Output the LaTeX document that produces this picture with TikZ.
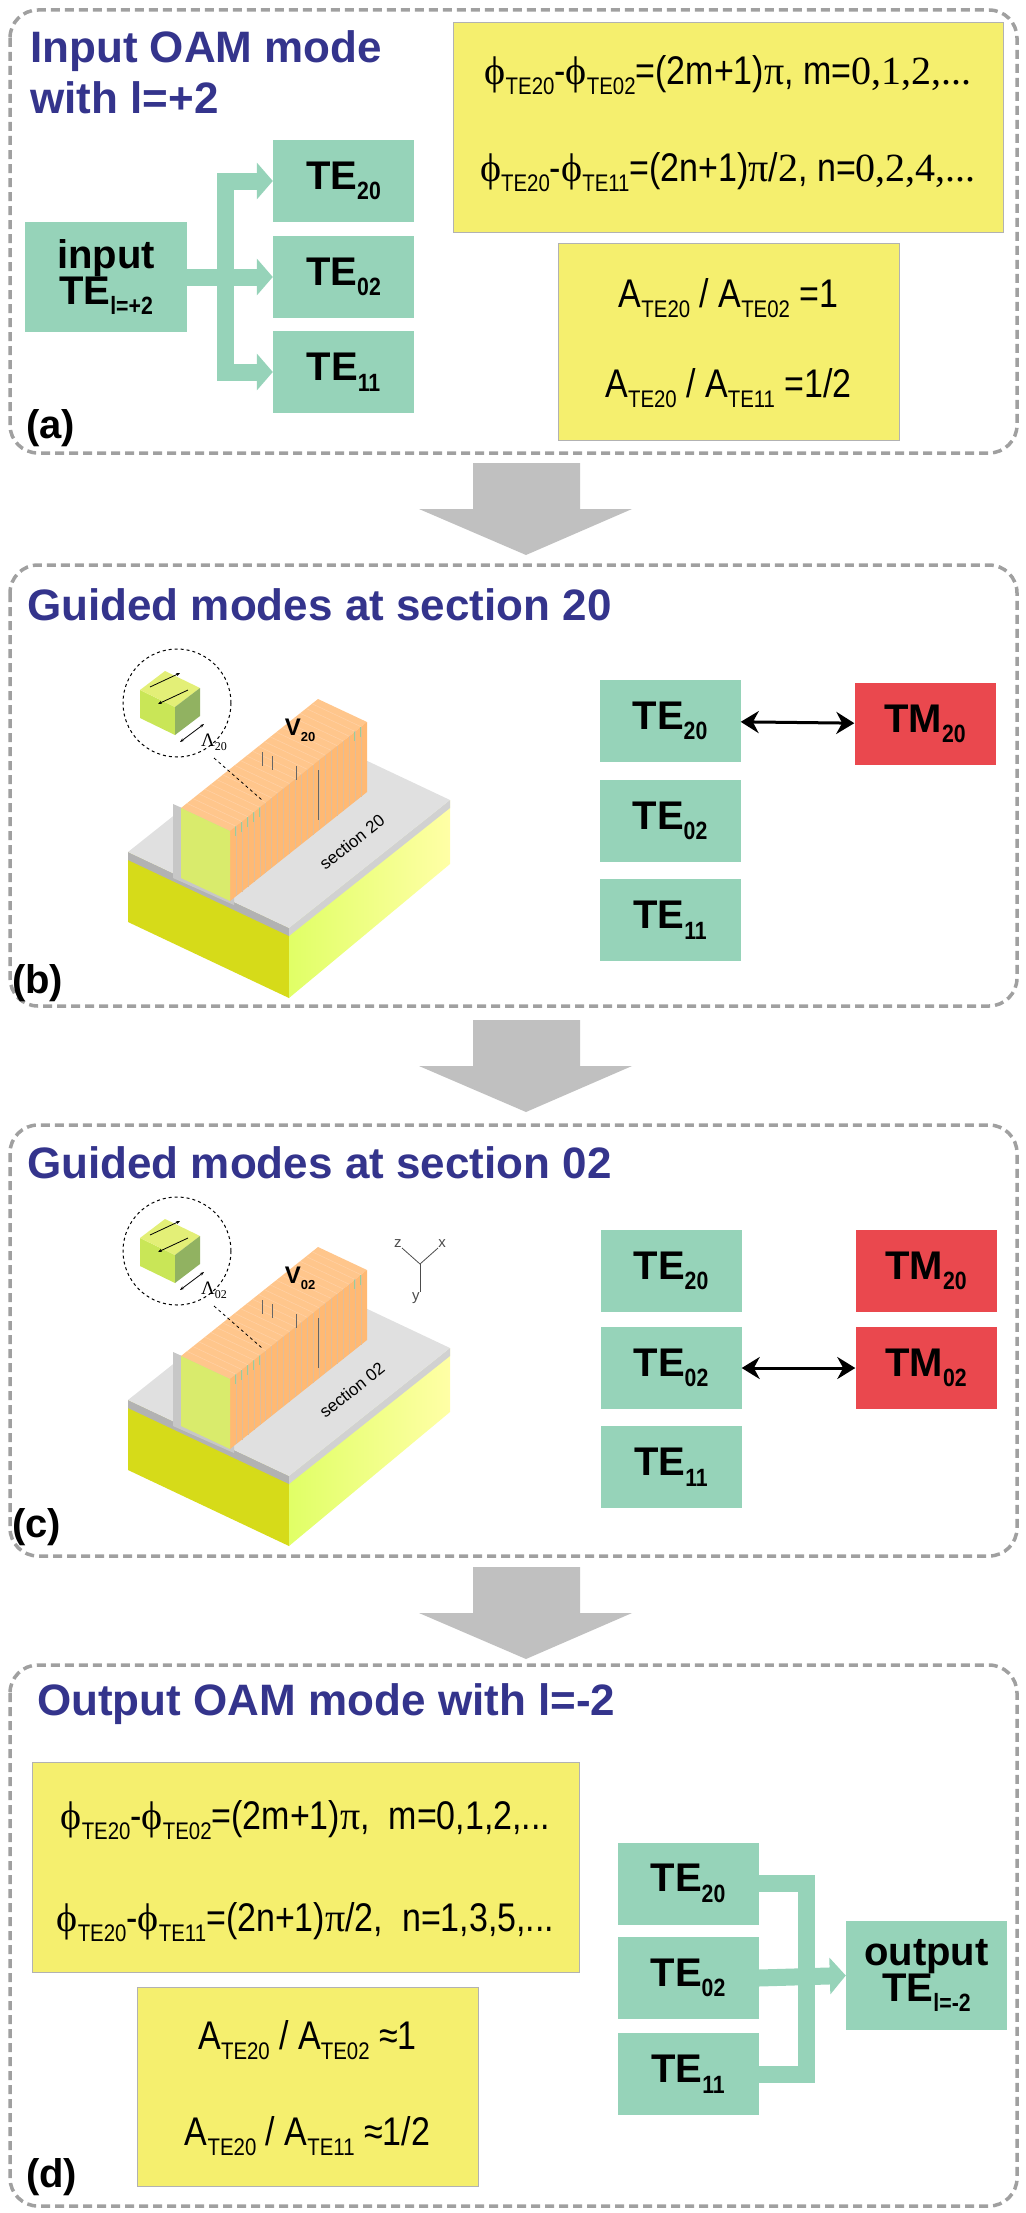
\documentclass[tikz,border=0pt]{standalone}
\usepackage{fontspec}
\setmainfont{Liberation Sans}
\newfontfamily\narrowf{Liberation Sans}[FakeStretch=0.85]
\newfontfamily\serf{Liberation Serif}
\usetikzlibrary{arrows.meta,calc}
\definecolor{teal1}{RGB}{150,211,185}
\definecolor{red1}{RGB}{234,72,78}
\definecolor{yel1}{RGB}{245,239,110}
\definecolor{blue1}{RGB}{52,52,140}
\definecolor{dash1}{RGB}{160,160,160}
\definecolor{arr1}{RGB}{192,192,192}
\newcommand\lsb[1]{\raisebox{-.5ex}{\fontsize{25}{25}\selectfont\narrowf #1}}
\newcommand\ysb[1]{\raisebox{-.45ex}{\fontsize{24}{24}\selectfont #1}}
\newcommand\ph{{\serf ϕ}}
\newcommand\ppi{{\serf π}}
\begin{document}
\begin{tikzpicture}[x=1pt,y=-1pt,
  panel/.style={draw=dash1, line width=3.5pt, dash pattern=on 9pt off 5pt, rounded corners=28pt},
  title/.style={anchor=base west, text=blue1, font=\fontsize{44}{51}\selectfont\bfseries, align=left, inner sep=0pt},
  lab/.style={anchor=base west, font=\fontsize{40}{40}\selectfont\bfseries, inner sep=0pt},
  te/.style={fill=teal1, minimum width=141pt, minimum height=82pt, inner sep=0pt, font=\fontsize{40}{40}\selectfont\bfseries},
  tm/.style={te, fill=red1},
  ybox/.style={fill=yel1, draw=black!30, line width=1pt},
  ytext/.style={font=\fontsize{40}{40}\selectfont\narrowf, inner sep=0pt},
  tline/.style={draw=teal1, line width=17pt},
  tarrow/.style={tline, -{Triangle[length=16pt,width=36pt]}},
  dbl/.style={{Stealth[length=18pt,width=22pt]}-{Stealth[length=18pt,width=22pt]}, line width=3pt},
  bigarrow/.style={fill=arr1, draw=none},
  small/.style={font=\fontsize{17}{17}\selectfont, inner sep=0pt}
]
\useasboundingbox (0,0) rectangle (1025,2213);

% ---------------- panels
\draw[panel] (10,10) rectangle (1017,453);
\draw[panel] (10,565) rectangle (1017,1006);
\draw[panel] (10,1125) rectangle (1017,1556);
\draw[panel] (10,1665) rectangle (1017,2206);

% ---------------- big gray arrows
\foreach \t in {463,1020,1567}{
  \fill[bigarrow] (473,\t) -- (580,\t) -- (580,\t+46) -- (632,\t+46) -- (526,\t+92)
    -- (419,\t+46) -- (473,\t+46) -- cycle;
}

% ---------------- (a)
\node[title, anchor=north west] (ta) at (30,30) {Input OAM mode\\with l=+2};
\node[lab] (la) at (26,438) {(a)};
\node[ybox, minimum width=550pt, minimum height=209pt] (ya1) at (728,127.5) {};
\node[ytext] (pa1) at (ya1.center |- 0,75) {\ph\ysb{TE20}-\ph\ysb{TE02}=(2m+1)\ppi, m={\serf 0,1,2,...}};
\node[ytext] (pa2) at (ya1.center |- 0,172) {\ph\ysb{TE20}-\ph\ysb{TE11}=(2n+1)\ppi/{\serf 2}, n={\serf 0,2,4,...}};
\node[ybox, minimum width=341pt, minimum height=197pt] (ya2) at (728.5,341.5) {};
\node[ytext] (aa1) at (728.5,298) {A\ysb{TE20} / A\ysb{TE02} =1};
\node[ytext] (aa2) at (728.5,388) {A\ysb{TE20} / A\ysb{TE11} =1/2};

\node[te, minimum width=162pt, minimum height=110pt, align=center] (ina) at (106,277)
  {input\\[-4pt]TE\lsb{l=+2}};
\node[te] (te20a) at (343.5,181) {TE\lsb{20}};
\node[te] (te02a) at (343.5,277) {TE\lsb{02}};
\node[te] (te11a) at (343.5,372) {TE\lsb{11}};
\coordinate (ja) at (225,277);
\draw[tline] (ina.east) -- (ja);
\draw[tarrow] (ja) |- (te20a.west);
\draw[tarrow] (ja) -- (te02a.west);
\draw[tarrow] (ja) |- (te11a.west);

% ---------------- (b)
\node[title] (tb) at (27,620) {Guided modes at section 20};
\node[lab] (lb) at (12,993) {(b)};
\node[te] (te20b) at (670,721) {TE\lsb{20}};
\node[te] (te02b) at (670,821) {TE\lsb{02}};
\node[te] (te11b) at (670,920) {TE\lsb{11}};
\node[tm] (tm20b) at (925,724) {TM\lsb{20}};
\draw[dbl] (te20b) -- (tm20b);

% ---------------- (c)
\node[title] (tc) at (27,1178) {Guided modes at section 02};
\node[lab] (lc) at (12,1537) {(c)};
\node[te] (te20c) at (671,1271) {TE\lsb{20}};
\node[te] (te02c) at (671,1368) {TE\lsb{02}};
\node[te] (te11c) at (671,1467) {TE\lsb{11}};
\node[tm] (tm20c) at (926,1271) {TM\lsb{20}};
\node[tm] (tm02c) at (926,1368) {TM\lsb{02}};
\draw[dbl] (te02c) -- (tm02c);
% axes
\coordinate (ax) at (420,1264);
\draw[black!70, line width=0.8pt] (ax) -- ++(-18,-16) node[small, anchor=south east, font=\fontsize{15}{15}\selectfont] (az) {z};
\draw[black!70, line width=0.8pt] (ax) -- ++(18,-16) node[small, anchor=south west, font=\fontsize{15}{15}\selectfont] (axx) {x};
\draw[black!70, line width=0.8pt] (ax) -- ++(0,28) node[small, anchor=north east, font=\fontsize{15}{15}\selectfont] (ay) {y};

% ---------------- waveguide sketches
\foreach \dy/\sec in {0/20, 548/02}{
\begin{scope}[shift={(0,\dy)}]
  \coordinate (D) at (128,852); \coordinate (C) at (289,928);
  \coordinate (B) at (450,800); \coordinate (A) at (289,724);
  % substrate
  \fill[yellow!70!green!80!black!40!yellow] (D) -- (C) -- ++(0,70) -- ($(D)+(0,70)$) -- cycle;
  \shade[left color=yellow!80!green!60, right color=yellow!35] (C) -- (B) -- ++(0,64) -- ($(C)+(0,70)$) -- cycle;
  % slab
  \fill[black!30] (D) -- (C) -- ++(0,8) -- ($(D)+(0,8)$) -- cycle;
  \fill[black!18] (C) -- (B) -- ++(0,8) -- ($(C)+(0,8)$) -- cycle;
  \fill[black!12] (A) -- (B) -- (C) -- (D) -- cycle;
  % ridge
  \coordinate (P1) at (181,808); \coordinate (P2) at (230,831);
  \coordinate (P3) at (230,901); \coordinate (P4) at (181,878);
  \coordinate (v) at (137,-109);
  \fill[black!22] ($(P1)+(-8,-4)$) -- ($(P2)+(4,0)$) -- ($(P3)+(4,4)$) -- ($(P4)+(-8,0)$) -- cycle;
  \fill[orange!45!white] (P1) -- (P2) -- ($(P2)+(v)$) -- ($(P1)+(v)$) -- cycle;
  \fill[orange!55!white] (P2) -- ($(P2)+(v)$) -- ($(P3)+(v)$) -- (P3) -- cycle;
  \foreach \i in {1,...,22}{
    \draw[green!50!black!40, line width=1.2pt] ($(P2)!\i/23!($(P2)+(v)$)$) -- ++(0,10);
    \draw[orange!70!black!40, line width=0.5pt] ($(P2)!\i/23!($(P2)+(v)$)$) -- ($(P3)!\i/23!($(P3)+(v)$)$);
    \draw[orange!35!white, line width=0.5pt] ($(P1)!\i/23!($(P1)+(v)$)$) -- ($(P2)!\i/23!($(P2)+(v)$)$);
  }
  \fill[yellow!75!green!60] (P1) -- (P2) -- (P3) -- (P4) -- cycle;
  % inset
  \draw[dashed, line width=1pt] (177,703) circle (54);
  \fill[yellow!70!green!70] (140,690) -- (175,707) -- (175,735) -- (140,718) -- cycle;
  \fill[yellow!80!green!55] (140,690) -- (175,707) -- (200,688) -- (165,671) -- cycle;
  \fill[yellow!50!green!70!black!80] (175,707) -- (200,688) -- (200,716) -- (175,735) -- cycle;
  \draw[line width=0.8pt, -{Stealth[length=4pt]}] (150,687) -- (180,673);
  \draw[line width=0.8pt, -{Stealth[length=4pt]}] (188,690) -- (158,704);
  \draw[line width=0.8pt, {Stealth[length=4pt]}-{Stealth[length=4pt]}] (180,742) -- (204,724);
  \node[small, font=\fontsize{19}{19}\selectfont\serf] (lam) at (214,742) {Λ\raisebox{-.5ex}{\fontsize{12}{12}\selectfont\sec}};
  \draw[dashed, line width=0.8pt] (214,758) -- (262,800);
  \node[small, font=\fontsize{24}{24}\selectfont\bfseries] (vv) at (300,730) {V\raisebox{-.5ex}{\fontsize{13}{13}\selectfont\sec}};
  \draw[black!60, line width=0.7pt] (262,752) -- (262,766) (272,756) -- (272,770) (296,766) -- (296,780) (318,770) -- (318,820);
  \node[small, rotate=38.5] (sec) at (352,842) {section \sec};
\end{scope}
}

% ---------------- (d)
\node[title] (td) at (37,1715) {Output OAM mode with l=-2};
\node[lab] (ld) at (26,2187) {(d)};
\node[ybox, minimum width=547pt, minimum height=210pt] (yd1) at (305.5,1867) {};
\node[ytext] (pd1) at (yd1.center |- 0,1820) {\ph\ysb{TE20}-\ph\ysb{TE02}=(2m+1)\ppi,\ \ m=0,1,2,...};
\node[ytext] (pd2) at (yd1.center |- 0,1922) {\ph\ysb{TE20}-\ph\ysb{TE11}=(2n+1)\ppi/2,\ \ n=1,3,5,...};
\node[ybox, minimum width=341pt, minimum height=199pt] (yd2) at (307.5,2086.5) {};
\node[ytext] (ad1) at (307.5,2040) {A\ysb{TE20} / A\ysb{TE02} ≈1};
\node[ytext] (ad2) at (307.5,2136) {A\ysb{TE20} / A\ysb{TE11} ≈1/2};

\node[te] (te20d) at (688,1883.5) {TE\lsb{20}};
\node[te] (te02d) at (688,1978) {TE\lsb{02}};
\node[te] (te11d) at (688,2074) {TE\lsb{11}};
\node[te, minimum width=161pt, minimum height=109pt, align=center] (outd) at (926.5,1975.5)
  {output\\[-4pt]TE\lsb{l=-2}};
\coordinate (jd) at (806,1978);
\draw[tline] (te20d.east) -| (jd);
\draw[tline] (te11d.east) -| (jd);
\draw[tarrow] (te02d.east) -- (outd.west);
\end{tikzpicture}
\end{document}
